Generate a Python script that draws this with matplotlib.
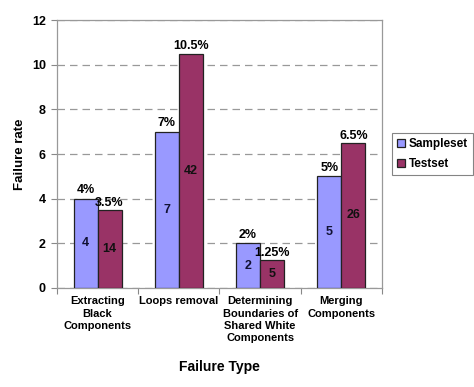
import matplotlib
matplotlib.use("Agg")
import matplotlib.pyplot as plt
import numpy as np

categories = ["Extracting\nBlack\nComponents", "Loops removal",
              "Determining\nBoundaries of\nShared White\nComponents", "Merging\nComponents"]
sampleset = [4, 7, 2, 5]
testset = [3.5, 10.5, 1.25, 6.5]
sample_counts = ["4", "7", "2", "5"]
test_counts = ["14", "42", "5", "26"]
sample_pct = ["4%", "7%", "2%", "5%"]
test_pct = ["3.5%", "10.5%", "1.25%", "6.5%"]
yticks = [0, 2, 4, 6, 8, 10, 12]

plt.rcParams['font.family'] = ['Liberation Sans', 'DejaVu Sans']
plt.rcParams['font.weight'] = 'bold'

fig = plt.figure(figsize=(4.74, 3.87), dpi=100)
ax = fig.add_axes([0.120, 0.256, 0.686, 0.692])

x = np.arange(len(categories))
w = 0.295
ax.bar(x - w/2, sampleset, w, color='#9999FF', edgecolor='#222222', linewidth=0.9, label='Sampleset', zorder=3)
ax.bar(x + w/2, testset, w, color='#993366', edgecolor='#222222', linewidth=0.9, label='Testset', zorder=3)

for i in range(len(categories)):
    ax.text(x[i] - w/2, sampleset[i]/2, sample_counts[i], ha='center', va='center',
            fontsize=9, fontweight='bold', color='#111133', zorder=4)
    ax.text(x[i] + w/2, testset[i]/2, test_counts[i], ha='center', va='center',
            fontsize=9, fontweight='bold', color='#111111', zorder=4)
    ax.text(x[i] - w/2, sampleset[i] + 0.12, sample_pct[i], ha='center', va='bottom',
            fontsize=9, fontweight='bold', color='black', zorder=4)
    ax.text(x[i] + w/2, testset[i] + 0.05, test_pct[i], ha='center', va='bottom',
            fontsize=9, fontweight='bold', color='black', zorder=4)

ax.set_xlim(-0.5, len(categories) - 0.5)
ax.set_ylim(0, 12)
ax.set_yticks(yticks)
ax.set_yticklabels([str(t) for t in yticks], fontsize=9, fontweight='bold')
ax.yaxis.grid(True, linestyle=(0, (6, 4)), color='#999999', linewidth=0.9, zorder=0)
ax.set_xticks(np.arange(len(categories) + 1) - 0.5, minor=False)
ax.set_xticklabels([''] * (len(categories) + 1))
ax.set_xticks(x, minor=True)
ax.set_xticklabels(categories, minor=True, fontsize=8, fontweight='bold', linespacing=1.3)
ax.tick_params(axis='x', which='minor', length=0, pad=6)
ax.tick_params(axis='x', which='major', length=4, color='#888888')
ax.tick_params(axis='y', length=4, color='#888888', pad=4)
for s in ax.spines.values():
    s.set_color('#999999')
    s.set_linewidth(0.9)

ax.set_ylabel('Failure rate', fontsize=9.5, fontweight='bold')
ax.yaxis.set_label_coords(-0.095, 0.5)
ax.set_xlabel('Failure Type', fontsize=10, fontweight='bold', labelpad=12)

leg = ax.legend(loc='center left', bbox_to_anchor=(1.03, 0.50), fontsize=8.5,
                frameon=True, fancybox=False, edgecolor='#666666',
                handlelength=0.7, handleheight=0.7, handletextpad=0.3,
                borderpad=0.45, labelspacing=0.65, borderaxespad=0)
leg.get_frame().set_linewidth(0.8)
for t in leg.get_texts():
    t.set_fontweight('bold')

fig.savefig('out.png', dpi=100)
